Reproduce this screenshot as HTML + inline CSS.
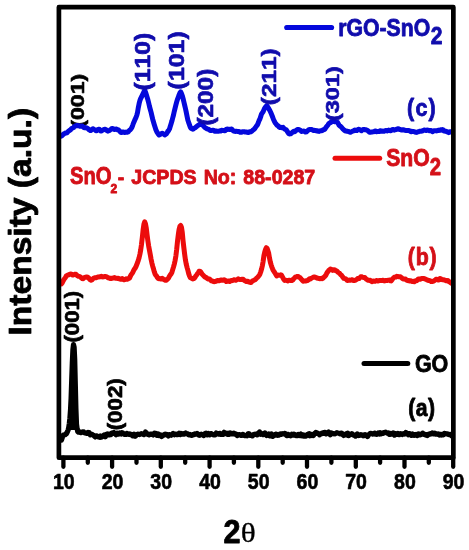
<!DOCTYPE html>
<html><head><meta charset="utf-8"><title>XRD patterns</title>
<style>html,body{margin:0;padding:0;background:#fff}svg{display:block}text{font-kerning:none}</style>
</head><body>
<svg width="469" height="550" viewBox="0 0 469 550">
<rect width="469" height="550" fill="#fff"/>
<text transform="translate(84,127.7) scale(0.8,1) rotate(-90)" font-family='"Liberation Sans", sans-serif' font-weight="bold" font-size="23.1" fill="#000" stroke="#000" stroke-width="0.75" stroke-linejoin="round">(001)</text>
<polyline points="61.5,136.0 62.3,135.4 63.1,134.5 63.9,133.8 64.7,133.4 65.5,132.9 66.3,132.9 67.1,132.8 67.9,131.8 68.7,131.0 69.5,130.6 70.3,130.0 71.1,129.1 71.9,128.3 72.7,128.0 73.5,127.6 74.3,126.6 75.1,126.2 75.9,125.7 76.7,125.6 77.5,125.6 78.3,125.8 79.1,125.8 79.9,126.2 80.7,126.3 81.5,126.2 82.3,126.1 83.1,126.9 83.9,127.6 84.7,127.8 85.5,127.6 86.3,127.9 87.1,128.0 87.9,128.5 88.7,129.5 89.5,129.9 90.3,130.5 91.1,130.4 91.9,129.3 92.7,128.8 93.5,129.0 94.3,129.5 95.1,130.0 95.9,130.8 96.7,130.8 97.5,129.6 98.3,129.4 99.1,129.2 99.9,129.7 100.7,131.1 101.5,131.1 102.3,130.3 103.1,130.0 103.9,129.6 104.7,129.2 105.5,129.4 106.3,129.9 107.1,130.7 107.9,131.2 108.7,130.7 109.5,130.4 110.3,129.8 111.1,129.2 111.9,128.5 112.7,128.5 113.5,128.8 114.3,129.4 115.1,129.5 115.9,129.0 116.7,129.2 117.5,129.8 118.3,129.7 119.1,130.5 119.9,131.5 120.7,132.3 121.5,132.5 122.3,132.1 123.1,132.0 123.9,132.2 124.7,132.6 125.5,132.2 126.3,132.1 127.1,132.3 127.9,132.0 128.7,131.3 129.5,130.3 130.3,129.7 131.1,128.7 131.9,127.4 132.7,125.3 133.5,123.0 134.3,121.2 135.1,119.3 135.9,117.7 136.7,115.5 137.5,112.6 138.3,107.7 139.1,103.7 139.9,100.6 140.7,98.4 141.5,97.0 142.3,95.2 143.1,93.5 143.9,91.9 144.7,90.3 145.5,92.0 146.3,94.5 147.1,97.2 147.9,99.8 148.7,103.0 149.5,106.5 150.3,109.5 151.1,112.4 151.9,115.9 152.7,119.2 153.5,122.0 154.3,124.7 155.1,127.2 155.9,129.8 156.7,131.6 157.5,132.9 158.3,134.1 159.1,135.0 159.9,134.6 160.7,134.2 161.5,133.7 162.3,133.2 163.1,133.9 163.9,134.2 164.7,134.9 165.5,134.5 166.3,134.0 167.1,132.7 167.9,131.2 168.7,130.5 169.5,128.9 170.3,126.3 171.1,123.7 171.9,121.1 172.7,118.0 173.5,115.0 174.3,111.3 175.1,108.1 175.9,104.9 176.7,101.9 177.5,99.2 178.3,97.3 179.1,94.9 179.9,93.0 180.7,91.8 181.5,93.5 182.3,95.8 183.1,98.6 183.9,102.0 184.7,105.4 185.5,108.8 186.3,112.4 187.1,116.5 187.9,120.3 188.7,122.6 189.5,124.8 190.3,127.1 191.1,128.4 191.9,128.7 192.7,129.2 193.5,128.9 194.3,128.1 195.1,127.9 195.9,127.2 196.7,126.5 197.5,125.7 198.3,125.3 199.1,124.7 199.9,124.3 200.7,123.7 201.5,123.9 202.3,125.0 203.1,125.5 203.9,126.5 204.7,127.3 205.5,127.8 206.3,128.3 207.1,128.9 207.9,129.1 208.7,129.4 209.5,129.9 210.3,130.5 211.1,130.6 211.9,130.4 212.7,130.2 213.5,130.2 214.3,131.0 215.1,131.2 215.9,131.0 216.7,131.1 217.5,131.3 218.3,131.3 219.1,131.1 219.9,130.8 220.7,130.9 221.5,130.3 222.3,130.5 223.1,130.5 223.9,130.6 224.7,130.8 225.5,130.4 226.3,129.3 227.1,129.0 227.9,129.5 228.7,129.2 229.5,129.4 230.3,129.5 231.1,128.9 231.9,129.1 232.7,130.3 233.5,130.9 234.3,131.2 235.1,131.4 235.9,131.3 236.7,131.2 237.5,131.6 238.3,131.5 239.1,131.5 239.9,132.2 240.7,132.3 241.5,132.2 242.3,131.8 243.1,131.8 243.9,131.7 244.7,131.8 245.5,132.1 246.3,132.0 247.1,132.2 247.9,132.5 248.7,132.6 249.5,131.8 250.3,131.9 251.1,131.7 251.9,131.2 252.7,130.3 253.5,129.7 254.3,129.2 255.1,128.0 255.9,126.9 256.7,125.8 257.5,124.7 258.3,122.8 259.1,120.5 259.9,119.0 260.7,116.6 261.5,114.1 262.3,112.9 263.1,111.8 263.9,109.9 264.7,108.1 265.5,107.0 266.3,106.0 267.1,105.9 267.9,107.3 268.7,108.5 269.5,109.9 270.3,111.5 271.1,113.3 271.9,115.2 272.7,117.2 273.5,119.5 274.3,121.1 275.1,122.8 275.9,123.7 276.7,124.8 277.5,125.5 278.3,125.8 279.1,127.0 279.9,127.4 280.7,127.2 281.5,127.7 282.3,127.7 283.1,127.4 283.9,128.3 284.7,129.0 285.5,129.4 286.3,129.9 287.1,131.1 287.9,132.4 288.7,133.6 289.5,133.9 290.3,133.8 291.1,133.7 291.9,132.8 292.7,132.0 293.5,131.4 294.3,131.8 295.1,131.3 295.9,130.6 296.7,129.9 297.5,129.5 298.3,129.5 299.1,129.7 299.9,130.0 300.7,130.6 301.5,131.4 302.3,131.3 303.1,131.2 303.9,131.1 304.7,131.4 305.5,132.1 306.3,131.9 307.1,131.3 307.9,130.5 308.7,129.7 309.5,129.6 310.3,129.6 311.1,129.4 311.9,129.7 312.7,130.1 313.5,130.5 314.3,130.3 315.1,130.6 315.9,130.7 316.7,131.0 317.5,130.8 318.3,131.2 319.1,131.4 319.9,130.9 320.7,130.7 321.5,130.8 322.3,130.4 323.1,129.8 323.9,129.7 324.7,129.4 325.5,128.1 326.3,127.0 327.1,125.9 327.9,125.1 328.7,123.7 329.5,122.9 330.3,122.8 331.1,121.9 331.9,121.8 332.7,121.5 333.5,120.6 334.3,120.9 335.1,121.8 335.9,121.7 336.7,121.9 337.5,122.4 338.3,123.7 339.1,125.3 339.9,126.1 340.7,126.4 341.5,127.2 342.3,128.2 343.1,129.2 343.9,129.9 344.7,130.6 345.5,131.0 346.3,131.0 347.1,131.2 347.9,131.4 348.7,131.5 349.5,131.9 350.3,132.3 351.1,132.0 351.9,131.5 352.7,131.0 353.5,131.0 354.3,130.2 355.1,130.1 355.9,130.6 356.7,130.5 357.5,129.8 358.3,129.3 359.1,129.5 359.9,129.7 360.7,130.3 361.5,130.7 362.3,130.1 363.1,129.5 363.9,129.4 364.7,129.7 365.5,129.8 366.3,129.8 367.1,130.3 367.9,130.7 368.7,131.6 369.5,132.2 370.3,132.3 371.1,132.0 371.9,132.1 372.7,131.9 373.5,131.7 374.3,131.5 375.1,131.1 375.9,131.1 376.7,131.7 377.5,131.6 378.3,131.6 379.1,131.5 379.9,130.8 380.7,130.8 381.5,131.2 382.3,131.2 383.1,131.1 383.9,131.3 384.7,131.0 385.5,130.4 386.3,130.4 387.1,130.9 387.9,130.6 388.7,130.1 389.5,130.6 390.3,130.7 391.1,130.5 391.9,129.8 392.7,129.4 393.5,129.4 394.3,130.1 395.1,129.7 395.9,129.7 396.7,129.2 397.5,129.0 398.3,128.7 399.1,129.2 399.9,129.6 400.7,129.4 401.5,130.0 402.3,130.0 403.1,129.7 403.9,129.9 404.7,130.2 405.5,130.4 406.3,130.4 407.1,130.4 407.9,130.6 408.7,130.6 409.5,130.7 410.3,131.4 411.1,131.7 411.9,131.3 412.7,131.6 413.5,131.6 414.3,131.7 415.1,132.2 415.9,132.2 416.7,132.4 417.5,131.9 418.3,131.8 419.1,131.5 419.9,131.2 420.7,131.3 421.5,131.0 422.3,130.9 423.1,130.5 423.9,130.0 424.7,130.1 425.5,130.3 426.3,130.5 427.1,130.1 427.9,130.2 428.7,130.2 429.5,130.8 430.3,130.6 431.1,130.5 431.9,131.3 432.7,131.7 433.5,131.0 434.3,130.8 435.1,130.8 435.9,130.7 436.7,130.9 437.5,130.4 438.3,130.3 439.1,130.4 439.9,130.1 440.7,130.2 441.5,129.8 442.3,129.6 443.1,129.9 443.9,131.0 444.7,131.0 445.5,131.2 446.3,131.5 447.1,131.7 447.9,132.2 448.7,132.6 449.5,132.0 450.3,131.8 451.1,132.0 451.9,132.3" fill="none" stroke="#0408dc" stroke-width="5" stroke-linejoin="round" stroke-linecap="round"/>
<polyline points="61.5,283.8 62.3,282.7 63.1,281.0 63.9,279.5 64.7,278.5 65.5,277.5 66.3,275.8 67.1,275.5 67.9,274.9 68.7,274.8 69.5,274.3 70.3,274.2 71.1,274.0 71.9,274.3 72.7,275.0 73.5,275.0 74.3,274.5 75.1,274.2 75.9,274.3 76.7,275.1 77.5,275.8 78.3,276.2 79.1,276.4 79.9,276.6 80.7,277.3 81.5,277.9 82.3,278.6 83.1,278.7 83.9,277.9 84.7,277.4 85.5,277.3 86.3,277.0 87.1,276.9 87.9,277.3 88.7,278.0 89.5,279.1 90.3,279.8 91.1,280.2 91.9,279.9 92.7,279.1 93.5,278.3 94.3,277.9 95.1,277.7 95.9,277.7 96.7,277.5 97.5,277.0 98.3,277.1 99.1,276.8 99.9,276.8 100.7,276.7 101.5,276.3 102.3,276.8 103.1,276.9 103.9,276.7 104.7,276.6 105.5,276.6 106.3,276.7 107.1,277.2 107.9,277.7 108.7,278.1 109.5,278.1 110.3,278.5 111.1,278.5 111.9,278.3 112.7,278.1 113.5,278.1 114.3,277.6 115.1,278.0 115.9,278.2 116.7,278.3 117.5,278.4 118.3,278.3 119.1,278.6 119.9,279.1 120.7,279.2 121.5,279.0 122.3,278.6 123.1,279.3 123.9,279.7 124.7,279.7 125.5,279.2 126.3,278.8 127.1,279.3 127.9,279.0 128.7,278.4 129.5,278.1 130.3,276.4 131.1,274.7 131.9,273.7 132.7,272.6 133.5,270.7 134.3,269.3 135.1,268.2 135.9,266.7 136.7,264.7 137.5,262.7 138.3,260.4 139.1,257.7 139.9,254.3 140.7,250.0 141.5,244.3 142.3,237.5 143.1,229.9 143.9,224.3 144.7,221.9 145.5,224.0 146.3,228.3 147.1,235.1 147.9,241.0 148.7,246.2 149.5,250.5 150.3,254.7 151.1,259.3 151.9,263.1 152.7,266.2 153.5,268.8 154.3,271.8 155.1,274.1 155.9,275.3 156.7,276.2 157.5,277.7 158.3,278.6 159.1,278.7 159.9,278.6 160.7,278.9 161.5,279.0 162.3,278.3 163.1,279.0 163.9,279.6 164.7,280.0 165.5,280.3 166.3,280.2 167.1,279.6 167.9,278.8 168.7,277.7 169.5,276.1 170.3,274.9 171.1,273.9 171.9,272.3 172.7,269.6 173.5,267.0 174.3,264.1 175.1,260.5 175.9,255.8 176.7,249.3 177.5,241.3 178.3,234.7 179.1,229.3 179.9,226.3 180.7,225.5 181.5,227.5 182.3,232.7 183.1,241.2 183.9,248.1 184.7,254.6 185.5,260.3 186.3,264.4 187.1,267.6 187.9,270.4 188.7,273.6 189.5,276.0 190.3,277.6 191.1,277.9 191.9,278.5 192.7,279.0 193.5,278.7 194.3,278.3 195.1,277.2 195.9,275.8 196.7,274.9 197.5,273.7 198.3,272.6 199.1,271.3 199.9,271.2 200.7,271.9 201.5,273.2 202.3,274.4 203.1,275.1 203.9,276.0 204.7,277.0 205.5,277.2 206.3,277.5 207.1,278.4 207.9,278.9 208.7,279.0 209.5,279.1 210.3,279.7 211.1,280.7 211.9,280.9 212.7,281.2 213.5,281.6 214.3,281.7 215.1,281.4 215.9,281.3 216.7,280.8 217.5,280.6 218.3,280.5 219.1,280.8 219.9,280.4 220.7,280.0 221.5,280.0 222.3,280.2 223.1,280.3 223.9,279.8 224.7,279.9 225.5,280.6 226.3,281.5 227.1,281.3 227.9,280.9 228.7,281.2 229.5,281.5 230.3,280.8 231.1,280.5 231.9,280.7 232.7,280.4 233.5,280.0 234.3,279.7 235.1,280.2 235.9,280.2 236.7,279.8 237.5,279.4 238.3,278.8 239.1,279.3 239.9,279.4 240.7,279.5 241.5,279.5 242.3,279.2 243.1,279.2 243.9,280.1 244.7,280.6 245.5,281.1 246.3,281.5 247.1,281.5 247.9,281.2 248.7,282.0 249.5,282.1 250.3,282.4 251.1,282.4 251.9,281.6 252.7,280.8 253.5,280.5 254.3,280.1 255.1,279.7 255.9,279.1 256.7,278.0 257.5,277.5 258.3,276.4 259.1,275.6 259.9,274.2 260.7,272.0 261.5,269.3 262.3,266.0 263.1,261.6 263.9,255.9 264.7,252.2 265.5,249.5 266.3,247.7 267.1,248.4 267.9,250.6 268.7,253.3 269.5,258.1 270.3,262.0 271.1,264.7 271.9,267.1 272.7,269.2 273.5,270.7 274.3,272.0 275.1,273.1 275.9,274.6 276.7,275.8 277.5,275.3 278.3,275.1 279.1,275.3 279.9,275.3 280.7,274.8 281.5,275.1 282.3,276.6 283.1,278.1 283.9,279.6 284.7,280.4 285.5,280.2 286.3,280.4 287.1,280.7 287.9,281.0 288.7,280.2 289.5,280.2 290.3,280.4 291.1,280.5 291.9,280.5 292.7,280.1 293.5,278.8 294.3,278.3 295.1,277.3 295.9,276.7 296.7,276.7 297.5,276.4 298.3,276.4 299.1,277.2 299.9,277.6 300.7,278.4 301.5,279.4 302.3,280.3 303.1,281.2 303.9,281.1 304.7,280.9 305.5,281.0 306.3,280.8 307.1,280.5 307.9,280.4 308.7,279.5 309.5,278.7 310.3,278.9 311.1,278.5 311.9,278.0 312.7,277.5 313.5,277.2 314.3,277.0 315.1,277.2 315.9,277.4 316.7,277.9 317.5,278.3 318.3,278.2 319.1,278.6 319.9,278.7 320.7,278.6 321.5,278.3 322.3,278.7 323.1,278.2 323.9,277.2 324.7,276.6 325.5,275.7 326.3,274.2 327.1,272.6 327.9,271.6 328.7,270.5 329.5,269.8 330.3,269.1 331.1,269.2 331.9,269.9 332.7,270.4 333.5,269.7 334.3,269.7 335.1,270.1 335.9,270.8 336.7,271.0 337.5,271.7 338.3,272.5 339.1,273.0 339.9,273.7 340.7,274.7 341.5,275.3 342.3,276.4 343.1,277.6 343.9,278.4 344.7,278.6 345.5,278.7 346.3,279.4 347.1,280.3 347.9,280.5 348.7,280.2 349.5,280.1 350.3,280.3 351.1,280.0 351.9,279.7 352.7,279.9 353.5,280.5 354.3,280.4 355.1,280.3 355.9,279.8 356.7,279.5 357.5,278.7 358.3,278.4 359.1,278.6 359.9,277.7 360.7,276.8 361.5,276.7 362.3,277.0 363.1,277.5 363.9,277.4 364.7,277.5 365.5,278.4 366.3,279.1 367.1,279.6 367.9,280.2 368.7,280.3 369.5,280.4 370.3,280.3 371.1,281.0 371.9,281.7 372.7,281.4 373.5,281.1 374.3,281.2 375.1,281.3 375.9,280.7 376.7,280.6 377.5,280.9 378.3,280.9 379.1,280.6 379.9,280.6 380.7,280.6 381.5,280.6 382.3,280.5 383.1,280.3 383.9,280.7 384.7,280.9 385.5,280.4 386.3,280.5 387.1,280.6 387.9,280.2 388.7,280.2 389.5,280.1 390.3,280.7 391.1,280.9 391.9,280.1 392.7,278.7 393.5,277.9 394.3,277.3 395.1,277.1 395.9,277.0 396.7,276.3 397.5,276.6 398.3,276.6 399.1,276.8 399.9,276.7 400.7,276.9 401.5,277.7 402.3,278.4 403.1,278.8 403.9,279.1 404.7,278.9 405.5,278.9 406.3,280.0 407.1,280.5 407.9,280.5 408.7,280.7 409.5,281.0 410.3,280.8 411.1,280.8 411.9,281.3 412.7,281.6 413.5,281.3 414.3,281.7 415.1,281.1 415.9,280.6 416.7,280.7 417.5,279.9 418.3,279.0 419.1,279.0 419.9,279.2 420.7,279.0 421.5,278.4 422.3,278.4 423.1,278.4 423.9,278.4 424.7,278.9 425.5,279.2 426.3,279.5 427.1,279.9 427.9,280.3 428.7,280.5 429.5,280.5 430.3,280.8 431.1,281.4 431.9,281.4 432.7,281.5 433.5,281.2 434.3,280.7 435.1,280.2 435.9,279.3 436.7,279.3 437.5,279.4 438.3,280.0 439.1,279.8 439.9,278.6 440.7,278.7 441.5,279.4 442.3,279.7 443.1,279.8 443.9,279.8 444.7,280.2 445.5,280.5 446.3,280.7 447.1,280.9 447.9,280.6 448.7,281.4 449.5,281.8 450.3,282.6 451.1,283.0 451.9,283.6" fill="none" stroke="#ec0c0c" stroke-width="5" stroke-linejoin="round" stroke-linecap="round"/>
<polyline points="61.5,440.0 62.1,438.2 62.7,436.5 63.3,435.2 63.9,434.9 64.5,434.9 65.1,434.7 65.7,434.0 66.3,433.8 66.9,432.8 67.5,431.6 68.1,430.1 68.7,427.6 69.3,423.6 69.9,418.3 70.5,410.0 71.1,398.2 71.7,380.4 72.3,363.2 72.9,349.8 73.5,344.5 74.1,347.0 74.7,359.1 75.3,383.7 75.9,408.4 76.5,424.1 77.1,428.6 77.7,431.6 78.3,432.0 78.9,431.5 79.5,431.9 80.1,432.5 80.7,432.6 81.3,432.7 81.9,432.3 82.5,431.8 83.1,432.1 83.7,431.9 84.3,432.8 84.9,432.8 85.5,432.8 86.1,433.2 86.7,433.4 87.3,432.6 87.9,432.4 88.5,432.7 89.1,432.6 89.7,433.7 90.3,434.9 90.9,434.4 91.5,434.6 92.1,434.3 92.7,434.9 93.3,435.1 93.9,435.5 94.5,436.2 95.1,436.9 95.7,436.4 96.3,436.0 96.9,435.8 97.5,436.4 98.1,436.6 98.7,437.0 99.3,437.1 99.9,437.3 100.5,436.0 101.1,436.4 101.7,437.1 102.3,436.4 102.9,435.8 103.5,435.5 104.1,435.0 104.7,435.7 105.3,436.8 105.9,435.9 106.5,434.3 107.1,434.0 107.7,434.5 108.3,434.9 108.9,434.1 109.5,434.0 110.1,434.8 110.7,434.7 111.3,433.8 111.9,433.1 112.5,432.8 113.1,432.8 113.7,432.5 114.3,433.5 114.9,433.4 115.5,434.0 116.1,434.7 116.7,434.2 117.3,433.1 117.9,433.9 118.5,434.1 119.1,433.1 119.7,432.9 120.3,433.1 120.9,433.1 121.5,433.9 122.1,432.7 122.7,432.9 123.3,433.7 123.9,434.0 124.5,434.3 125.1,434.3 125.7,434.4 126.3,434.5 126.9,433.4 127.5,433.8 128.1,434.0 128.7,434.4 129.3,434.4 129.9,433.9 130.5,434.1 131.1,434.9 131.7,434.7 132.3,434.6 132.9,436.0 133.5,435.9 134.1,434.3 134.7,435.0 135.3,436.2 135.9,435.5 136.5,434.8 137.1,434.4 137.7,434.2 138.3,434.2 138.9,434.3 139.5,434.7 140.1,434.3 140.7,433.9 141.3,433.7 141.9,433.9 142.5,433.8 143.1,434.1 143.7,434.7 144.3,434.5 144.9,433.9 145.5,432.0 146.1,432.9 146.7,433.9 147.3,434.1 147.9,434.4 148.5,434.1 149.1,434.9 149.7,434.5 150.3,434.0 150.9,434.0 151.5,434.1 152.1,434.4 152.7,434.4 153.3,434.9 153.9,433.9 154.5,433.1 155.1,433.4 155.7,433.4 156.3,434.4 156.9,435.3 157.5,435.0 158.1,433.9 158.7,434.3 159.3,435.6 159.9,435.2 160.5,435.0 161.1,435.7 161.7,436.5 162.3,435.9 162.9,435.1 163.5,435.1 164.1,435.1 164.7,434.4 165.3,434.1 165.9,434.5 166.5,434.3 167.1,434.6 167.7,435.3 168.3,435.9 168.9,434.7 169.5,434.6 170.1,434.8 170.7,435.2 171.3,435.3 171.9,434.5 172.5,433.9 173.1,433.5 173.7,434.0 174.3,434.8 174.9,434.6 175.5,434.0 176.1,434.2 176.7,434.6 177.3,434.7 177.9,434.2 178.5,433.9 179.1,433.2 179.7,433.7 180.3,434.6 180.9,433.4 181.5,433.7 182.1,434.2 182.7,433.9 183.3,433.7 183.9,434.0 184.5,434.2 185.1,433.8 185.7,433.1 186.3,433.6 186.9,433.6 187.5,433.8 188.1,434.4 188.7,434.8 189.3,434.8 189.9,434.4 190.5,434.9 191.1,435.3 191.7,435.4 192.3,435.3 192.9,434.6 193.5,434.5 194.1,434.6 194.7,433.9 195.3,434.3 195.9,434.2 196.5,433.9 197.1,433.4 197.7,433.8 198.3,434.6 198.9,435.2 199.5,435.3 200.1,434.7 200.7,434.3 201.3,434.2 201.9,434.6 202.5,434.6 203.1,435.1 203.7,435.5 204.3,434.5 204.9,433.5 205.5,433.4 206.1,433.2 206.7,433.6 207.3,434.8 207.9,434.3 208.5,433.5 209.1,434.4 209.7,434.8 210.3,433.9 210.9,433.5 211.5,433.7 212.1,434.1 212.7,434.5 213.3,434.8 213.9,434.9 214.5,434.9 215.1,434.9 215.7,434.1 216.3,433.0 216.9,433.5 217.5,433.8 218.1,433.7 218.7,434.1 219.3,433.5 219.9,433.4 220.5,434.4 221.1,434.3 221.7,434.1 222.3,434.4 222.9,434.5 223.5,433.6 224.1,432.3 224.7,432.7 225.3,433.1 225.9,433.0 226.5,433.8 227.1,434.2 227.7,433.4 228.3,433.3 228.9,434.4 229.5,433.5 230.1,432.9 230.7,433.6 231.3,433.8 231.9,433.5 232.5,433.9 233.1,433.4 233.7,433.2 234.3,433.9 234.9,434.2 235.5,433.8 236.1,434.1 236.7,434.6 237.3,435.6 237.9,434.6 238.5,434.9 239.1,434.6 239.7,434.5 240.3,435.0 240.9,435.4 241.5,435.5 242.1,435.0 242.7,434.4 243.3,434.5 243.9,435.1 244.5,435.5 245.1,435.7 245.7,435.5 246.3,435.7 246.9,435.8 247.5,434.9 248.1,433.8 248.7,433.6 249.3,434.1 249.9,435.2 250.5,434.8 251.1,435.3 251.7,435.5 252.3,435.9 252.9,435.4 253.5,434.7 254.1,434.4 254.7,434.5 255.3,434.4 255.9,434.1 256.5,434.5 257.1,434.8 257.7,433.6 258.3,433.7 258.9,433.1 259.5,431.9 260.1,433.4 260.7,434.3 261.3,434.2 261.9,433.7 262.5,434.5 263.1,434.3 263.7,434.6 264.3,434.2 264.9,432.9 265.5,433.6 266.1,434.8 266.7,435.5 267.3,435.0 267.9,434.5 268.5,434.1 269.1,435.4 269.7,435.8 270.3,434.9 270.9,434.2 271.5,433.9 272.1,435.3 272.7,436.4 273.3,435.8 273.9,435.6 274.5,435.0 275.1,434.5 275.7,435.0 276.3,434.2 276.9,434.4 277.5,435.0 278.1,435.3 278.7,435.2 279.3,434.9 279.9,434.2 280.5,433.9 281.1,434.4 281.7,434.1 282.3,433.7 282.9,433.8 283.5,433.9 284.1,433.5 284.7,433.4 285.3,433.7 285.9,434.7 286.5,435.5 287.1,435.7 287.7,434.3 288.3,434.4 288.9,435.3 289.5,434.9 290.1,435.1 290.7,435.8 291.3,435.0 291.9,434.2 292.5,434.3 293.1,435.1 293.7,435.2 294.3,434.3 294.9,434.6 295.5,435.5 296.1,435.6 296.7,435.2 297.3,435.7 297.9,435.5 298.5,434.5 299.1,435.0 299.7,435.5 300.3,434.8 300.9,434.1 301.5,435.0 302.1,436.0 302.7,436.0 303.3,434.9 303.9,436.1 304.5,435.3 305.1,435.7 305.7,436.1 306.3,435.8 306.9,435.0 307.5,434.4 308.1,434.8 308.7,434.0 309.3,433.7 309.9,435.8 310.5,435.7 311.1,435.4 311.7,434.5 312.3,435.2 312.9,435.6 313.5,435.3 314.1,434.1 314.7,433.3 315.3,433.3 315.9,432.4 316.5,432.6 317.1,433.4 317.7,433.2 318.3,433.4 318.9,433.9 319.5,434.8 320.1,434.5 320.7,433.9 321.3,433.9 321.9,433.1 322.5,433.1 323.1,433.4 323.7,432.6 324.3,432.5 324.9,432.4 325.5,433.2 326.1,433.8 326.7,432.9 327.3,432.8 327.9,432.3 328.5,432.0 329.1,432.4 329.7,434.0 330.3,434.7 330.9,433.7 331.5,433.0 332.1,433.4 332.7,433.4 333.3,433.8 333.9,433.7 334.5,433.8 335.1,433.8 335.7,433.3 336.3,433.0 336.9,432.6 337.5,433.0 338.1,433.0 338.7,433.4 339.3,433.4 339.9,434.0 340.5,434.0 341.1,433.2 341.7,433.2 342.3,433.6 342.9,434.7 343.5,435.4 344.1,434.9 344.7,434.5 345.3,434.7 345.9,434.0 346.5,434.7 347.1,433.8 347.7,433.2 348.3,435.6 348.9,435.6 349.5,434.2 350.1,434.4 350.7,434.5 351.3,434.3 351.9,433.7 352.5,434.1 353.1,434.9 353.7,435.2 354.3,435.5 354.9,435.5 355.5,436.1 356.1,435.1 356.7,434.7 357.3,433.9 357.9,434.4 358.5,435.5 359.1,435.1 359.7,435.4 360.3,435.2 360.9,434.7 361.5,434.9 362.1,435.0 362.7,435.2 363.3,435.8 363.9,435.7 364.5,434.9 365.1,434.6 365.7,435.1 366.3,435.2 366.9,435.9 367.5,436.6 368.1,435.6 368.7,434.7 369.3,434.2 369.9,433.7 370.5,433.4 371.1,433.4 371.7,433.6 372.3,433.8 372.9,434.1 373.5,433.6 374.1,433.2 374.7,433.1 375.3,434.2 375.9,434.2 376.5,434.4 377.1,434.1 377.7,433.9 378.3,433.1 378.9,433.6 379.5,434.1 380.1,432.7 380.7,433.3 381.3,433.8 381.9,433.3 382.5,433.3 383.1,433.4 383.7,432.6 384.3,432.7 384.9,432.3 385.5,432.2 386.1,432.5 386.7,432.9 387.3,433.2 387.9,433.2 388.5,432.9 389.1,434.4 389.7,434.5 390.3,434.0 390.9,433.4 391.5,433.6 392.1,434.0 392.7,433.7 393.3,432.9 393.9,434.3 394.5,435.1 395.1,433.4 395.7,434.0 396.3,434.1 396.9,434.0 397.5,434.3 398.1,433.4 398.7,434.0 399.3,434.6 399.9,433.9 400.5,433.6 401.1,433.8 401.7,434.0 402.3,434.5 402.9,433.9 403.5,434.0 404.1,433.6 404.7,434.1 405.3,433.6 405.9,432.6 406.5,433.4 407.1,433.4 407.7,434.0 408.3,434.7 408.9,433.7 409.5,433.7 410.1,434.9 410.7,434.9 411.3,435.3 411.9,434.7 412.5,434.0 413.1,434.5 413.7,435.3 414.3,435.3 414.9,434.7 415.5,434.6 416.1,434.4 416.7,434.6 417.3,435.6 417.9,434.8 418.5,433.9 419.1,434.2 419.7,435.0 420.3,435.0 420.9,434.4 421.5,434.1 422.1,434.0 422.7,433.2 423.3,433.5 423.9,434.4 424.5,434.2 425.1,434.6 425.7,435.0 426.3,434.7 426.9,434.6 427.5,435.4 428.1,434.7 428.7,434.1 429.3,434.4 429.9,434.2 430.5,433.6 431.1,433.9 431.7,433.6 432.3,432.9 432.9,433.6 433.5,433.9 434.1,433.6 434.7,433.1 435.3,433.7 435.9,434.2 436.5,434.2 437.1,433.9 437.7,434.3 438.3,433.9 438.9,434.4 439.5,435.1 440.1,434.3 440.7,434.4 441.3,435.0 441.9,434.5 442.5,434.4 443.1,434.9 443.7,434.8 444.3,433.4 444.9,433.5 445.5,433.7 446.1,433.7 446.7,433.8 447.3,434.0 447.9,434.4 448.5,434.2 449.1,434.6 449.7,434.7 450.3,434.3 450.9,434.8 451.5,435.6 452.1,435.1" fill="none" stroke="#000" stroke-width="5.2" stroke-linejoin="round" stroke-linecap="round"/>
<polygon points="68.8,430 69.4,423 70.8,405 71.9,375 72.8,351 73.6,346 74.4,351 75.1,375 75.8,405 76.5,423 77.2,430" fill="#000"/>
<rect x="58.9" y="7.15" width="394.45000000000005" height="450.55" fill="none" stroke="#000" stroke-width="4.7" stroke-linejoin="round"/>
<line x1="63.4" y1="457.7" x2="63.4" y2="466.8" stroke="#000" stroke-width="4.3" stroke-linecap="round"/>
<line x1="87.8" y1="457.7" x2="87.8" y2="462.8" stroke="#000" stroke-width="4.3" stroke-linecap="round"/>
<text transform="translate(63.8,489.2) scale(0.86,1)" font-family='"Liberation Sans", sans-serif' font-weight="bold" font-size="22.7" fill="#000" stroke="#000" stroke-width="0.65" stroke-linejoin="round" text-anchor="middle">10</text>
<line x1="112.1" y1="457.7" x2="112.1" y2="466.8" stroke="#000" stroke-width="4.3" stroke-linecap="round"/>
<line x1="136.5" y1="457.7" x2="136.5" y2="462.8" stroke="#000" stroke-width="4.3" stroke-linecap="round"/>
<text transform="translate(112.5,489.2) scale(0.86,1)" font-family='"Liberation Sans", sans-serif' font-weight="bold" font-size="22.7" fill="#000" stroke="#000" stroke-width="0.65" stroke-linejoin="round" text-anchor="middle">20</text>
<line x1="160.8" y1="457.7" x2="160.8" y2="466.8" stroke="#000" stroke-width="4.3" stroke-linecap="round"/>
<line x1="185.2" y1="457.7" x2="185.2" y2="462.8" stroke="#000" stroke-width="4.3" stroke-linecap="round"/>
<text transform="translate(161.2,489.2) scale(0.86,1)" font-family='"Liberation Sans", sans-serif' font-weight="bold" font-size="22.7" fill="#000" stroke="#000" stroke-width="0.65" stroke-linejoin="round" text-anchor="middle">30</text>
<line x1="209.6" y1="457.7" x2="209.6" y2="466.8" stroke="#000" stroke-width="4.3" stroke-linecap="round"/>
<line x1="233.9" y1="457.7" x2="233.9" y2="462.8" stroke="#000" stroke-width="4.3" stroke-linecap="round"/>
<text transform="translate(210.0,489.2) scale(0.86,1)" font-family='"Liberation Sans", sans-serif' font-weight="bold" font-size="22.7" fill="#000" stroke="#000" stroke-width="0.65" stroke-linejoin="round" text-anchor="middle">40</text>
<line x1="258.3" y1="457.7" x2="258.3" y2="466.8" stroke="#000" stroke-width="4.3" stroke-linecap="round"/>
<line x1="282.7" y1="457.7" x2="282.7" y2="462.8" stroke="#000" stroke-width="4.3" stroke-linecap="round"/>
<text transform="translate(258.7,489.2) scale(0.86,1)" font-family='"Liberation Sans", sans-serif' font-weight="bold" font-size="22.7" fill="#000" stroke="#000" stroke-width="0.65" stroke-linejoin="round" text-anchor="middle">50</text>
<line x1="307.0" y1="457.7" x2="307.0" y2="466.8" stroke="#000" stroke-width="4.3" stroke-linecap="round"/>
<line x1="331.4" y1="457.7" x2="331.4" y2="462.8" stroke="#000" stroke-width="4.3" stroke-linecap="round"/>
<text transform="translate(307.4,489.2) scale(0.86,1)" font-family='"Liberation Sans", sans-serif' font-weight="bold" font-size="22.7" fill="#000" stroke="#000" stroke-width="0.65" stroke-linejoin="round" text-anchor="middle">60</text>
<line x1="355.8" y1="457.7" x2="355.8" y2="466.8" stroke="#000" stroke-width="4.3" stroke-linecap="round"/>
<line x1="380.1" y1="457.7" x2="380.1" y2="462.8" stroke="#000" stroke-width="4.3" stroke-linecap="round"/>
<text transform="translate(356.1,489.2) scale(0.86,1)" font-family='"Liberation Sans", sans-serif' font-weight="bold" font-size="22.7" fill="#000" stroke="#000" stroke-width="0.65" stroke-linejoin="round" text-anchor="middle">70</text>
<line x1="404.5" y1="457.7" x2="404.5" y2="466.8" stroke="#000" stroke-width="4.3" stroke-linecap="round"/>
<line x1="428.8" y1="457.7" x2="428.8" y2="462.8" stroke="#000" stroke-width="4.3" stroke-linecap="round"/>
<text transform="translate(404.9,489.2) scale(0.86,1)" font-family='"Liberation Sans", sans-serif' font-weight="bold" font-size="22.7" fill="#000" stroke="#000" stroke-width="0.65" stroke-linejoin="round" text-anchor="middle">80</text>
<line x1="453.2" y1="457.7" x2="453.2" y2="466.8" stroke="#000" stroke-width="4.3" stroke-linecap="round"/>
<text transform="translate(453.6,489.2) scale(0.86,1)" font-family='"Liberation Sans", sans-serif' font-weight="bold" font-size="22.7" fill="#000" stroke="#000" stroke-width="0.65" stroke-linejoin="round" text-anchor="middle">90</text>
<line x1="286.7" y1="27.5" x2="331.6" y2="27.5" stroke="#0408dc" stroke-width="5.1" stroke-linecap="round"/>
<line x1="335" y1="158.2" x2="379.7" y2="158.2" stroke="#ec0c0c" stroke-width="5" stroke-linecap="round"/>
<line x1="364" y1="363.5" x2="407.8" y2="363.5" stroke="#000" stroke-width="5" stroke-linecap="round"/>
<text transform="translate(338.3,35.5) scale(0.877,1)" font-family='"Liberation Sans", sans-serif' font-weight="bold" font-size="24.2" fill="#100cac" stroke="#100cac" stroke-width="0.85" stroke-linejoin="round" text-anchor="start">rGO-SnO<tspan font-size="24" dy="8.3" dx="0.6">2</tspan></text>
<text transform="translate(386.2,165.6) scale(0.875,1)" font-family='"Liberation Sans", sans-serif' font-weight="bold" font-size="24.2" fill="#d41018" stroke="#d41018" stroke-width="0.85" stroke-linejoin="round" text-anchor="start">SnO<tspan font-size="23.2" dy="9">2</tspan></text>
<text transform="translate(414.9,371.6) scale(0.873,1)" font-family='"Liberation Sans", sans-serif' font-weight="bold" font-size="24.6" fill="#000" stroke="#000" stroke-width="0.85" stroke-linejoin="round" text-anchor="start">GO</text>
<text transform="translate(69.9,184.3) scale(0.86,1)" font-family='"Liberation Sans", sans-serif' font-weight="bold" font-size="23.6" fill="#d41018" stroke="#d41018" stroke-width="0.85" stroke-linejoin="round" text-anchor="start">SnO</text>
<text transform="translate(110.6,193.2) scale(0.9,1)" font-family='"Liberation Sans", sans-serif' font-weight="bold" font-size="13.4" fill="#d41018" stroke="#d41018" stroke-width="0.85" stroke-linejoin="round" text-anchor="start">2</text>
<text transform="translate(117.8,184.0) scale(0.935,1)" font-family='"Liberation Sans", sans-serif' font-weight="bold" font-size="21" fill="#d41018" stroke="#d41018" stroke-width="0.85" stroke-linejoin="round" text-anchor="start" word-spacing="1.6">- JCPDS No: 88-0287</text>
<text transform="translate(407,116.3) scale(0.875,1)" font-family='"Liberation Sans", sans-serif' font-weight="bold" font-size="24.6" fill="#100cac" stroke="#100cac" stroke-width="0.85" stroke-linejoin="round" text-anchor="start" letter-spacing="1.4">(c)</text>
<text transform="translate(407.7,265.1) scale(0.875,1)" font-family='"Liberation Sans", sans-serif' font-weight="bold" font-size="24.4" fill="#d41018" stroke="#d41018" stroke-width="0.85" stroke-linejoin="round" text-anchor="start" letter-spacing="1.0">(b)</text>
<text transform="translate(408.3,416.2) scale(0.875,1)" font-family='"Liberation Sans", sans-serif' font-weight="bold" font-size="24.2" fill="#000" stroke="#000" stroke-width="0.85" stroke-linejoin="round" text-anchor="start" letter-spacing="0.5">(a)</text>
<text transform="translate(150.2,90.4) scale(0.865,1) rotate(-90)" font-family='"Liberation Sans", sans-serif' font-weight="bold" font-size="24.7" fill="#100cac" stroke="#100cac" stroke-width="0.75" stroke-linejoin="round">(110)</text>
<text transform="translate(184.3,89.4) scale(0.87,1) rotate(-90)" font-family='"Liberation Sans", sans-serif' font-weight="bold" font-size="24.9" fill="#100cac" stroke="#100cac" stroke-width="0.75" stroke-linejoin="round">(101)</text>
<text transform="translate(212.8,125.5) scale(0.875,1) rotate(-90)" font-family='"Liberation Sans", sans-serif' font-weight="bold" font-size="24.3" fill="#100cac" stroke="#100cac" stroke-width="0.75" stroke-linejoin="round">(200)</text>
<text transform="translate(276.3,105.2) scale(0.825,1) rotate(-90)" font-family='"Liberation Sans", sans-serif' font-weight="bold" font-size="24.3" fill="#100cac" stroke="#100cac" stroke-width="0.75" stroke-linejoin="round">(211)</text>
<text transform="translate(339.3,121.2) scale(0.815,1) rotate(-90)" font-family='"Liberation Sans", sans-serif' font-weight="bold" font-size="23.6" fill="#100cac" stroke="#100cac" stroke-width="0.75" stroke-linejoin="round">(301)</text>
<text transform="translate(79.2,342.5) scale(0.88,1) rotate(-90)" font-family='"Liberation Sans", sans-serif' font-weight="bold" font-size="22.1" fill="#000" stroke="#000" stroke-width="0.75" stroke-linejoin="round">(001)</text>
<text transform="translate(121.9,430.3) scale(0.87,1) rotate(-90)" font-family='"Liberation Sans", sans-serif' font-weight="bold" font-size="22.3" fill="#000" stroke="#000" stroke-width="0.75" stroke-linejoin="round">(002)</text>
<text transform="translate(31.2,335.6) scale(0.925,1) rotate(-90)" font-family='"Liberation Sans", sans-serif' font-weight="bold" font-size="33.6" fill="#000" stroke="#000" stroke-width="0.85" stroke-linejoin="round">Intensity (a.u.)</text>
<text transform="translate(223.6,542.6) scale(0.92,1)" font-family='"Liberation Sans", sans-serif' font-weight="bold" font-size="33.3" fill="#000" stroke="#000" stroke-width="0.85" stroke-linejoin="round" text-anchor="start">2</text>
<text transform="translate(240.8,542.4) scale(1.12,1)" font-family='"Liberation Serif", serif' font-size="28" fill="#000" stroke="#000" stroke-width="0.3">θ</text>
</svg>
</body></html>
